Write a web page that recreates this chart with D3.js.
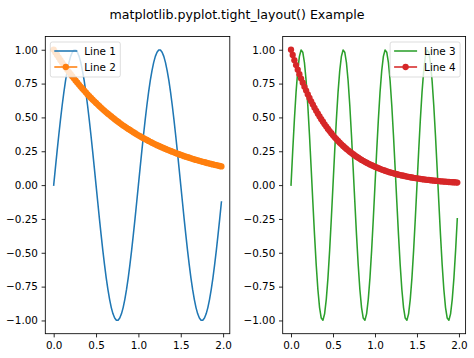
<!DOCTYPE html>
<html>
<head>
<meta charset="utf-8">
<script src="https://cdn.jsdelivr.net/npm/d3@7"></script>
<style>
  html, body { margin: 0; padding: 0; background: #fff; }
  svg { display: block; font-family: "DejaVu Sans", sans-serif; }
</style>
</head>
<body>
<svg id="chart" width="474" height="358"></svg>
<script>
const title = "matplotlib.pyplot.tight_layout() Example";
const xTicks = [0.0, 0.5, 1.0, 1.5, 2.0];
const yTicks = [-1.00, -0.75, -0.50, -0.25, 0.00, 0.25, 0.50, 0.75, 1.00];
const legendLeft = ["Line 1", "Line 2"];
const legendRight = ["Line 3", "Line 4"];

const t = [0.00,0.02,0.04,0.06,0.08,0.10,0.12,0.14,0.16,0.18,0.20,0.22,0.24,0.26,0.28,0.30,0.32,0.34,0.36,0.38,
0.40,0.42,0.44,0.46,0.48,0.50,0.52,0.54,0.56,0.58,0.60,0.62,0.64,0.66,0.68,0.70,0.72,0.74,0.76,0.78,
0.80,0.82,0.84,0.86,0.88,0.90,0.92,0.94,0.96,0.98,1.00,1.02,1.04,1.06,1.08,1.10,1.12,1.14,1.16,1.18,
1.20,1.22,1.24,1.26,1.28,1.30,1.32,1.34,1.36,1.38,1.40,1.42,1.44,1.46,1.48,1.50,1.52,1.54,1.56,1.58,
1.60,1.62,1.64,1.66,1.68,1.70,1.72,1.74,1.76,1.78,1.80,1.82,1.84,1.86,1.88,1.90,1.92,1.94,1.96,1.98];

const line1 = [0,.125,.249,.368,.482,.588,.685,.771,.844,.905,.951,.982,.998,.998,.982,.951,.905,.844,.771,.685,.588,.482,.368,.249,.125,
0,-.125,-.249,-.368,-.482,-.588,-.685,-.771,-.844,-.905,-.951,-.982,-.998,-.998,-.982,-.951,-.905,-.844,-.771,-.685,-.588,-.482,-.368,-.249,-.125,
0,.125,.249,.368,.482,.588,.685,.771,.844,.905,.951,.982,.998,.998,.982,.951,.905,.844,.771,.685,.588,.482,.368,.249,.125,
0,-.125,-.249,-.368,-.482,-.588,-.685,-.771,-.844,-.905,-.951,-.982,-.998,-.998,-.982,-.951,-.905,-.844,-.771,-.685,-.588,-.482,-.368,-.249,-.125];

const line2 = [1.000,.980,.961,.942,.923,.905,.887,.869,.852,.835,.819,.803,.787,.771,.756,.741,.726,.712,.698,.684,
.670,.657,.644,.631,.619,.607,.595,.583,.571,.560,.549,.538,.527,.517,.507,.497,.487,.477,.468,.458,
.449,.440,.432,.423,.415,.407,.399,.391,.383,.375,.368,.361,.353,.346,.340,.333,.326,.320,.313,.307,
.301,.295,.289,.284,.278,.273,.267,.262,.257,.252,.247,.242,.237,.232,.228,.223,.219,.214,.210,.206,
.202,.198,.194,.190,.186,.183,.179,.176,.172,.169,.165,.162,.159,.156,.153,.150,.147,.144,.141,.138];

const line3 = [0,.249,.482,.685,.844,.951,.998,.982,.905,.771,.588,.368,.125,-.125,-.368,-.588,-.771,-.905,-.982,-.998,-.951,-.844,-.685,-.482,-.249,
0,.249,.482,.685,.844,.951,.998,.982,.905,.771,.588,.368,.125,-.125,-.368,-.588,-.771,-.905,-.982,-.998,-.951,-.844,-.685,-.482,-.249,
0,.249,.482,.685,.844,.951,.998,.982,.905,.771,.588,.368,.125,-.125,-.368,-.588,-.771,-.905,-.982,-.998,-.951,-.844,-.685,-.482,-.249,
0,.249,.482,.685,.844,.951,.998,.982,.905,.771,.588,.368,.125,-.125,-.368,-.588,-.771,-.905,-.982,-.998,-.951,-.844,-.685,-.482,-.249];

const line4 = [1.000,.961,.923,.887,.852,.819,.787,.756,.726,.698,.670,.644,.619,.595,.571,.549,.527,.507,.487,.468,
.449,.432,.415,.399,.383,.368,.353,.340,.326,.313,.301,.289,.278,.267,.257,.247,.237,.228,.219,.210,
.202,.194,.186,.179,.172,.165,.159,.153,.147,.141,.135,.130,.125,.120,.115,.111,.106,.102,.098,.094,
.091,.087,.084,.080,.077,.074,.071,.069,.066,.063,.061,.058,.056,.054,.052,.050,.048,.046,.044,.042,
.041,.039,.038,.036,.035,.033,.032,.031,.030,.028,.027,.026,.025,.024,.023,.022,.021,.021,.020,.019];

const svg = d3.select("#chart");

svg.append("text")
  .attr("x", 237).attr("y", 18.5)
  .attr("text-anchor", "middle")
  .style("font-size", "12.6px")
  .attr("fill", "#000")
  .text(title);

const panels = [
  { left: 45.3, right: 229.8, series: [
      { y: line1, color: "#1f77b4", marker: false },
      { y: line2, color: "#ff7f0e", marker: true } ],
    labels: legendLeft, legendAlign: "left" },
  { left: 282.7, right: 465.6, series: [
      { y: line3, color: "#2ca02c", marker: false },
      { y: line4, color: "#d62728", marker: true } ],
    labels: legendRight, legendAlign: "right" }
];
const plotTop = 36.5, plotBottom = 333.7;
const fmtY = v => d3.format(".2f")(v).replace("-", "\u2212");

panels.forEach((p, pi) => {
  const x = d3.scaleLinear().domain([-0.099, 2.079]).range([p.left, p.right]);
  const y = d3.scaleLinear().domain([-1.0978, 1.0978]).range([plotBottom, plotTop]);
  const g = svg.append("g");
  const clipId = "clip" + pi;
  g.append("clipPath").attr("id", clipId).append("rect")
    .attr("x", p.left).attr("y", plotTop).attr("width", p.right - p.left).attr("height", plotBottom - plotTop);

  const plot = g.append("g").attr("clip-path", `url(#${clipId})`);
  p.series.forEach(s => {
    const pts = t.map((tv, i) => [tv, s.y[i]]);
    plot.append("path")
      .datum(pts)
      .attr("fill", "none")
      .attr("stroke", s.color)
      .attr("stroke-width", 1.55)
      .attr("stroke-linejoin", "round")
      .attr("stroke-linecap", "square")
      .attr("d", d3.line().x(d => x(d[0])).y(d => y(d[1])));
    if (s.marker) {
      plot.append("g").selectAll("circle").data(pts).join("circle")
        .attr("cx", d => x(d[0])).attr("cy", d => y(d[1]))
        .attr("r", 3.15)
        .attr("fill", s.color);
    }
  });

  const xAxis = d3.axisBottom(x).tickValues(xTicks).tickFormat(d3.format(".1f")).tickSize(3.7).tickPadding(3.9);
  const yAxis = d3.axisLeft(y).tickValues(yTicks).tickFormat(fmtY).tickSize(3.7).tickPadding(3.7);
  const gx = g.append("g").attr("transform", `translate(0,${plotBottom})`).call(xAxis);
  const gy = g.append("g").attr("transform", `translate(${p.left},0)`).call(yAxis);
  [gx, gy].forEach(a => {
    a.select(".domain").remove();
    a.selectAll("line").attr("stroke", "#000").attr("stroke-width", 0.84);
    a.selectAll("text").style("font-size", "10.4px").style("font-family", "'DejaVu Sans', sans-serif").attr("fill", "#000");
  });
  g.append("rect")
    .attr("x", p.left).attr("y", plotTop)
    .attr("width", p.right - p.left).attr("height", plotBottom - plotTop)
    .attr("fill", "none").attr("stroke", "#000").attr("stroke-width", 0.84);

  const lw = 70, lh = 35;
  const lx = p.legendAlign === "left" ? p.left + 5 : p.right - 5.5 - lw;
  const ly = plotTop + 5.5;
  const lg = g.append("g");
  lg.append("rect")
    .attr("x", lx).attr("y", ly).attr("width", lw).attr("height", lh)
    .attr("rx", 2).attr("ry", 2)
    .attr("fill", "rgba(255,255,255,0.8)")
    .attr("stroke", "rgba(204,204,204,0.8)").attr("stroke-width", 0.84);
  p.labels.forEach((lab, i) => {
    const s = p.series[i];
    const cy = ly + 9 + i * 16;
    lg.append("line")
      .attr("x1", lx + 4).attr("x2", lx + 27).attr("y1", cy).attr("y2", cy)
      .attr("stroke", s.color).attr("stroke-width", 1.55);
    if (s.marker) {
      lg.append("circle").attr("cx", lx + 15.5).attr("cy", cy).attr("r", 3.15).attr("fill", s.color);
    }
    lg.append("text")
      .attr("x", lx + 34).attr("y", cy).attr("dy", "0.36em")
      .style("font-size", "10.4px").attr("fill", "#000")
      .text(lab);
  });
});
</script>
</body>
</html>
